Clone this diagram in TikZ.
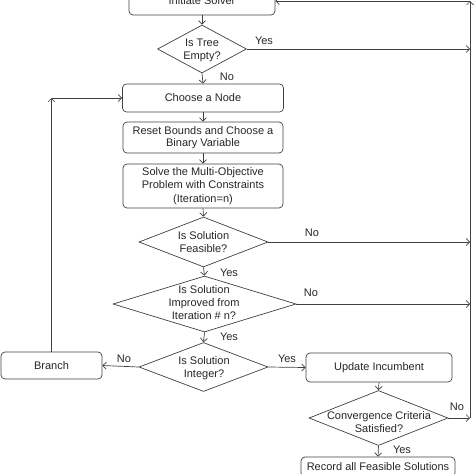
\documentclass[tikz,border=0pt]{standalone}
\usepackage{fontspec}
\setmainfont{Liberation Sans}
\usetikzlibrary{shapes.geometric,arrows.meta}
\definecolor{linec}{HTML}{404040}
\definecolor{textc}{HTML}{262626}
\begin{document}
\begin{tikzpicture}[x=1pt,y=-1pt,font=\fontsize{11}{13}\selectfont,
  box/.style={draw=linec,rounded corners=4pt,line width=0.7pt,inner sep=0pt,align=center,text=textc},
  dia/.style={draw=linec,diamond,line width=0.7pt,inner sep=0pt},
  txt/.style={align=center,inner sep=0pt,text=textc},
  lab/.style={inner sep=0pt,text=textc},
  arr/.style={-{Straight Barb[length=3.5pt,width=7pt]},draw=linec,line width=0.7pt}]
\useasboundingbox (0,0) rectangle (474,474);
\clip (0,0) rectangle (474,474);
% boxes
\node[box,minimum width=146pt,minimum height=28pt] (init) at (202,1) {Initiate Solver};
\node[dia,minimum width=89pt,minimum height=48pt] (tree) at (202,49) {};
\node[txt] (treet) at (202,50) {Is Tree\\Empty?};
\node[box,minimum width=161pt,minimum height=28pt] (choose) at (203,98) {Choose a Node};
\node[box,minimum width=160pt,minimum height=31pt,font=\fontsize{11}{12.3}\selectfont] (reset) at (203,137.5) {Reset Bounds and Choose a\\Binary Variable};
\node[box,minimum width=160pt,minimum height=44pt,font=\fontsize{11}{13.5}\selectfont] (solve) at (203,186) {Solve the Multi-Objective\\Problem with Constraints\\(Iteration=n)};
\node[dia,minimum width=129pt,minimum height=50pt] (feas) at (203.5,242) {};
\node[txt] (feast) at (203.5,242.5) {Is Solution\\Feasible?};
\node[dia,minimum width=183pt,minimum height=56pt] (impr) at (204.5,304) {};
\node[txt,font=\fontsize{11}{13.3}\selectfont] (imprt) at (204,302.5) {Is Solution\\Improved from\\Iteration \# n?};
\node[dia,minimum width=129pt,minimum height=49pt] (integ) at (203.5,367) {};
\node[txt] (integt) at (204,368.5) {Is Solution\\Integer?};
\node[box,minimum width=101pt,minimum height=27pt] (branch) at (51.5,365.5) {Branch};
\node[box,minimum width=146pt,minimum height=29pt] (update) at (379,367.5) {Update Incumbent};
\node[dia,minimum width=139pt,minimum height=55pt] (conv) at (378.5,418) {};
\node[txt] (convt) at (379,422.5) {Convergence Criteria\\Satisfied?};
\node[box,minimum width=154pt,minimum height=20pt] (record) at (378,467) {Record all Feasible Solutions};
% helper coordinates
\coordinate (rtop) at (470,1);
% main flow
\draw[arr] (init.south) -- (tree.north);
\draw[arr] (tree.south) -- (choose.north);
\draw[arr] (choose.south) -- (reset.north);
\draw[arr] (reset.south) -- (solve.north);
\draw[arr] (solve.south) -- (feas.north);
\draw[arr] (feas.south) -- (impr.north);
\draw[arr] (impr.south) -- (integ.north);
\draw[arr] (integ.west) -- (branch.east);
\draw[arr] (integ.east) -- (update.west);
\draw[arr] (update.south) -- (conv.north);
\draw[arr] (conv.south) -- (record.north);
% right side
\draw[arr] (tree.east) -- (tree.east -| rtop);
\draw[arr] (feas.east) -- (feas.east -| rtop);
\draw[arr] (impr.east) -- (impr.east -| rtop);
\draw[arr] (conv.east) -- (conv.east -| rtop);
\draw[arr] (conv.east -| rtop) -- (rtop);
\draw[arr] (rtop) -- (init.east);
% left loop
\draw[arr] (branch.north) -- (branch.north |- choose.west);
\draw[arr] (branch.north |- choose.west) -- (choose.west);
% labels
\node[lab] (l1) at (264,41) {Yes};
\node[lab] (l2) at (227,77) {No};
\node[lab] (l3) at (312,233) {No};
\node[lab] (l4) at (229,273) {Yes};
\node[lab] (l5) at (311,293) {No};
\node[lab] (l6) at (229,337) {Yes};
\node[lab] (l7) at (124,359) {No};
\node[lab] (l8) at (287,359) {Yes};
\node[lab] (l9) at (457,407) {No};
\node[lab] (l10) at (402,450) {Yes};
\end{tikzpicture}
\end{document}
